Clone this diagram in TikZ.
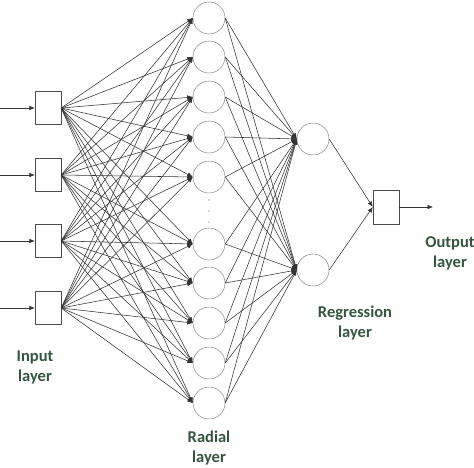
\documentclass[tikz,border=0pt]{standalone}
\usepackage{fontspec}
\setmainfont{Carlito}
\usepackage{xcolor}
\usetikzlibrary{arrows.meta,positioning}
\definecolor{labelgreen}{RGB}{52,86,62}

\begin{document}
\begin{tikzpicture}[
    x=1pt, y=-1pt,
    unit/.style={
      draw=black!70, rectangle, inner sep=0pt,
      minimum width=26pt, minimum height=33pt, fill=white
    },
    neuron/.style={
      draw=black!55, circle, inner sep=0pt,
      minimum size=32pt, fill=white
    },
    layerlabel/.style={
      align=center, text=labelgreen, font=\fontsize{16.5}{20}\selectfont\bfseries
    },
    arrow/.style={-{Latex[length=5.5pt,width=4.5pt]},line width=0.55pt,draw=black!80}
  ]
    \useasboundingbox (0,0) rectangle (474,467);

    \foreach \i/\y in {1/108,2/175,3/241,4/308} {
      \coordinate (src\i) at (0,\y);
      \node[unit] (in\i) at (48,\y) {};
    }
    \foreach \j/\y in {1/18,2/57,3/97,4/137,5/177,6/244,7/283,8/323,9/363,10/403} {
      \node[neuron] (rad\j) at (209,\y) {};
    }
    \node[neuron] (reg1) at (313,139) {};
    \node[neuron] (reg2) at (313,270) {};
    \node[unit,minimum height=34pt] (out) at (386,207) {};
    \coordinate (sink) at (433,207);

    \foreach \y [count=\k] in {200,211,222} {
      \node[circle,fill=black!70,inner sep=0pt,minimum size=1.3pt] (dot\k) at (209,\y) {};
    }

    \foreach \i in {1,...,4} {
      \draw[arrow] (src\i) -- (in\i.west);
      \foreach \j in {1,...,10} {
        \draw[arrow] (in\i.east) -- (rad\j.west);
      }
    }
    \foreach \j in {1,...,10} {
      \draw[arrow] (rad\j.east) -- (reg1.west);
      \draw[arrow] (rad\j.east) -- (reg2.west);
    }
    \draw[arrow] (reg1.east) -- (out.west);
    \draw[arrow] (reg2.east) -- (out.west);
    \draw[arrow] (out.east) -- (sink);

    \node[layerlabel] (inlabel) at (35,367) {Input\\layer};
    \node[layerlabel] (radlabel) at (209,448) {Radial\\layer};
    \node[layerlabel] (reglabel) at (355,323) {Regression\\layer};
    \node[layerlabel] (outlabel) at (450,253) {Output\\layer};
  \end{tikzpicture}
\end{document}
